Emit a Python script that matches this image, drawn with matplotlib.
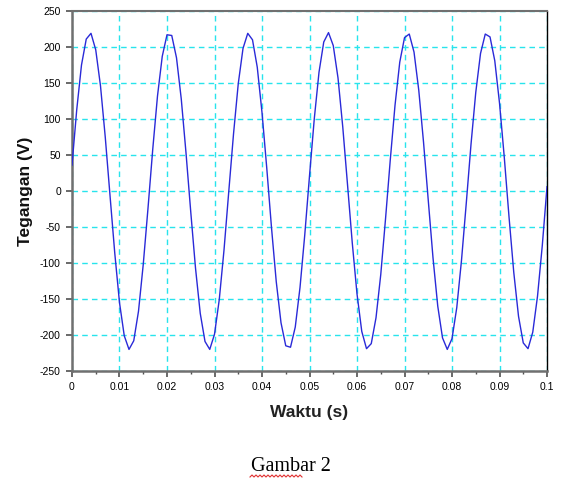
import matplotlib
matplotlib.use("Agg")
import matplotlib.pyplot as plt
from matplotlib.lines import Line2D
from matplotlib.ticker import MultipleLocator
import numpy as np

# sampled every 1 ms, 0 .. 0.1 s
t_step = 0.001
tegangan = [
    36, 113, 175, 211, 219, 196, 146, 75, -6, -86,
    -155, -201, -220, -208, -167, -102, -24, 58, 132, 187,
    217, 216, 185, 128, 53, -29, -107, -170, -209, -220,
    -199, -151, -82, -1, 79, 149, 198, 219, 210, 172,
    109, 32, -51, -126, -183, -215, -217, -189, -134, -61,
    21, 100, 165, 207, 220, 202, 157, 89, 9, -72,
    -143, -195, -219, -212, -176, -116, -39, 43, 119, 179,
    213, 218, 193, 140, 68, -13, -93, -160, -204, -220,
    -205, -162, -96, -17, 65, 137, 191, 218, 214, 181,
    122, 47, -36, -113, -174, -211, -219, -196, -146, -76,
    6,
]
waktu = [i * t_step for i in range(len(tegangan))]

x_ticks = [0, 0.01, 0.02, 0.03, 0.04, 0.05, 0.06, 0.07, 0.08, 0.09, 0.1]
x_labels = ["0", "0.01", "0.02", "0.03", "0.04", "0.05", "0.06", "0.07", "0.08", "0.09", "0.1"]
y_ticks = [-250, -200, -150, -100, -50, 0, 50, 100, 150, 200, 250]

plt.rcParams['font.family'] = ['Liberation Sans', 'DejaVu Sans']
plt.rcParams['axes.unicode_minus'] = False

fig = plt.figure(figsize=(5.82, 4.87), dpi=100)
ax = fig.add_axes([0.1237, 0.2382, 0.8162, 0.7392])

ax.plot(waktu, tegangan, color="#2a2ad8", lw=1.0, zorder=3)

ax.set_xlim(0, 0.1)
ax.set_ylim(-250, 250)
ax.set_xticks(x_ticks)
ax.set_xticklabels(x_labels)
ax.set_yticks(y_ticks)
ax.xaxis.set_minor_locator(MultipleLocator(0.005))

ax.grid(True, which="major", color="#28e4ec", linestyle=(0, (4, 3)), lw=1.0)

for s in ["left", "bottom", "top"]:
    ax.spines[s].set_color("#707070")
ax.spines["left"].set_linewidth(1.8)
ax.spines["bottom"].set_linewidth(1.8)
ax.spines["top"].set_linewidth(1.5)
ax.spines["right"].set_color("black")
ax.spines["right"].set_linewidth(1.0)

ax.tick_params(axis="both", which="major", direction="out", length=4, width=1.2,
               color="#505050", labelsize=7.5, pad=4)
ax.tick_params(axis="x", which="minor", direction="out", length=2, width=1.0, color="#505050")

ax.set_xlabel("Waktu (s)", fontsize=12.5, fontweight="bold", color="#222222", labelpad=9)
ax.set_ylabel("Tegangan (V)", fontsize=12.5, fontweight="bold", color="#111111", labelpad=5)

fig.text(0.5, 0.033, "Gambar 2", family=["Liberation Serif", "DejaVu Serif"],
         fontsize=14.5, ha="center", va="baseline")

# spell-check squiggle under "Gambar"
sx = np.linspace(250, 302, 27)
sy = 476 + np.where(np.arange(27) % 2 == 0, 1.0, -1.0)
fig.add_artist(Line2D(sx / 582, 1 - sy / 487, color="#e03030", lw=0.8,
                      transform=fig.transFigure))

fig.savefig("out.png", dpi=100)
